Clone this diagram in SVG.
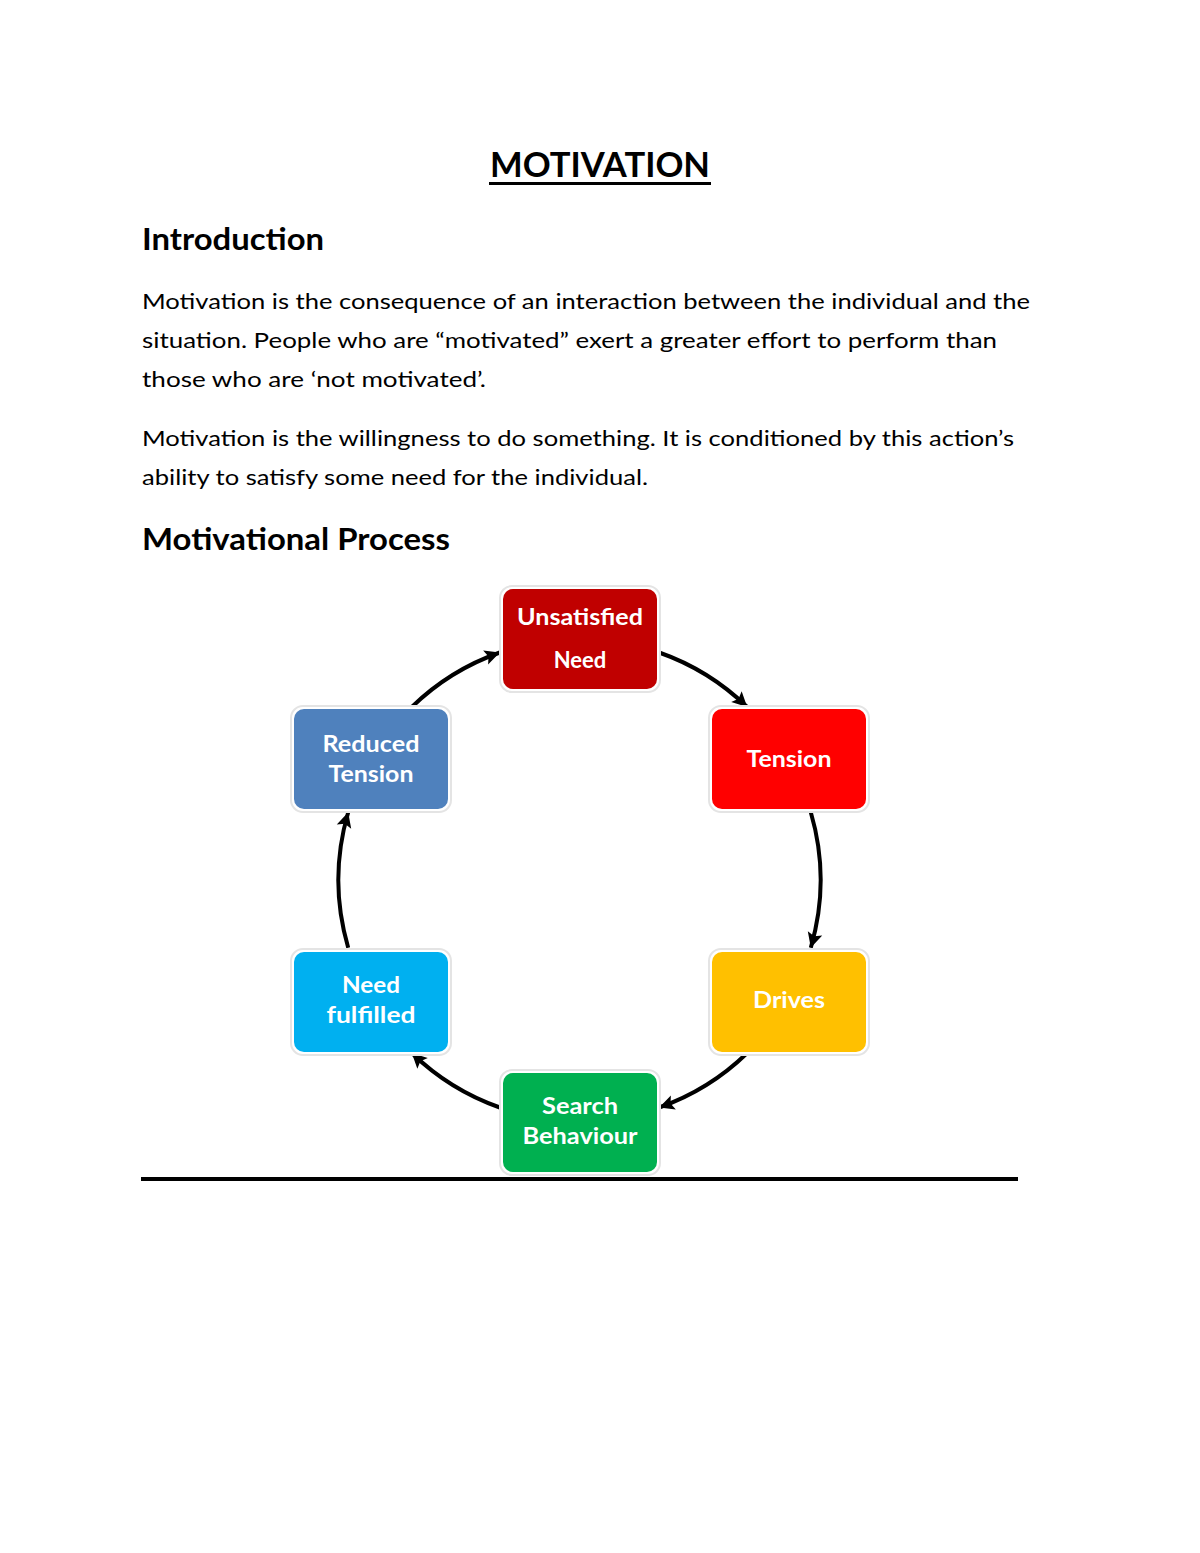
<svg xmlns="http://www.w3.org/2000/svg" width="1200" height="1553" viewBox="0 0 1200 1553">
<style>
.h{font-family:Lato,"Liberation Sans",sans-serif;font-weight:bold;fill:#000}
.b{font-family:Lato,"Liberation Sans",sans-serif;font-size:22px;fill:#000}
.n{font-family:Lato,"Liberation Sans",sans-serif;font-weight:bold;font-size:22px;fill:#fff;text-anchor:middle}
.halo{fill:#fff;stroke:#e4e4e4;stroke-width:2}
.conn path{fill:none;stroke:#000;stroke-width:4;marker-end:url(#ah)}
</style>
<defs>
<marker id="ah" markerUnits="userSpaceOnUse" markerWidth="20" markerHeight="20" viewBox="0 0 20 20" refX="18" refY="10" orient="auto">
<path d="M3,2.5 L18,10 L3,17.5 L6,10 Z" fill="#000"/>
</marker>
</defs>
<rect width="1200" height="1553" fill="#fff"/>

<g id="title">
<text class="h" x="490" y="177" font-size="34" textLength="220" lengthAdjust="spacingAndGlyphs">MOTIVATION</text>
<rect x="489" y="182" width="222" height="3" fill="#000"/>
</g>
<g id="intro">
<text class="h" x="142" y="250" font-size="31" textLength="182" lengthAdjust="spacingAndGlyphs">Introduction</text>
<text class="b" x="142" y="309" textLength="888" lengthAdjust="spacingAndGlyphs">Motivation is the consequence of an interaction between the individual and the</text>
<text class="b" x="142" y="348" textLength="855" lengthAdjust="spacingAndGlyphs">situation. People who are “motivated” exert a greater effort to perform than</text>
<text class="b" x="142" y="387" textLength="344" lengthAdjust="spacingAndGlyphs">those who are ‘not motivated’.</text>
<text class="b" x="142" y="446" textLength="872" lengthAdjust="spacingAndGlyphs">Motivation is the willingness to do something. It is conditioned by this action’s</text>
<text class="b" x="142" y="485" textLength="506" lengthAdjust="spacingAndGlyphs">ability to satisfy some need for the individual.</text>
<text class="h" x="142" y="550" font-size="31" textLength="308" lengthAdjust="spacingAndGlyphs">Motivational Process</text>
</g>

<g id="connectors" class="conn">
<path d="M659.2,652.5 A241,241 0 0 1 747.2,707"/>
<path d="M810.8,812.3 A241,241 0 0 1 810.8,947.7"/>
<path d="M747.2,1053 A241,241 0 0 1 659.2,1107.5"/>
<path d="M499.8,1107.5 A241,241 0 0 1 411.8,1053"/>
<path d="M348.2,947.7 A241,241 0 0 1 348.2,812.3"/>
<path d="M411.8,707 A241,241 0 0 1 499.8,652.5"/>
</g>

<g id="node-unsatisfied">
<rect class="halo" x="500" y="586" width="160" height="106" rx="12"/>
<rect x="503" y="589" width="154" height="100" rx="10" fill="#C00000"/>
<text class="n" x="580" y="625" textLength="126" lengthAdjust="spacingAndGlyphs">Unsatisfied</text>
<text class="n" x="580" y="668">Need</text>
</g>
<g id="node-tension">
<rect class="halo" x="709" y="706" width="160" height="106" rx="12"/>
<rect x="712" y="709" width="154" height="100" rx="10" fill="#FF0000"/>
<text class="n" x="789" y="767" textLength="85" lengthAdjust="spacingAndGlyphs">Tension</text>
</g>
<g id="node-drives">
<rect class="halo" x="709" y="949" width="160" height="106" rx="12"/>
<rect x="712" y="952" width="154" height="100" rx="10" fill="#FFC000"/>
<text class="n" x="789" y="1008" textLength="72" lengthAdjust="spacingAndGlyphs">Drives</text>
</g>
<g id="node-search">
<rect class="halo" x="500" y="1070" width="160" height="105" rx="12"/>
<rect x="503" y="1073" width="154" height="99" rx="10" fill="#00B050"/>
<text class="n" x="580" y="1114" textLength="76" lengthAdjust="spacingAndGlyphs">Search</text>
<text class="n" x="580" y="1144" textLength="115" lengthAdjust="spacingAndGlyphs">Behaviour</text>
</g>
<g id="node-fulfilled">
<rect class="halo" x="291" y="949" width="160" height="106" rx="12"/>
<rect x="294" y="952" width="154" height="100" rx="10" fill="#00B0F0"/>
<text class="n" x="371" y="993" textLength="58" lengthAdjust="spacingAndGlyphs">Need</text>
<text class="n" x="371" y="1023" textLength="89" lengthAdjust="spacingAndGlyphs">fulfilled</text>
</g>
<g id="node-reduced">
<rect class="halo" x="291" y="706" width="160" height="106" rx="12"/>
<rect x="294" y="709" width="154" height="100" rx="10" fill="#4F81BD"/>
<text class="n" x="371" y="752" textLength="97" lengthAdjust="spacingAndGlyphs">Reduced</text>
<text class="n" x="371" y="782" textLength="85" lengthAdjust="spacingAndGlyphs">Tension</text>
</g>

<rect id="rule" x="141" y="1177" width="877" height="4" fill="#000"/>
</svg>
